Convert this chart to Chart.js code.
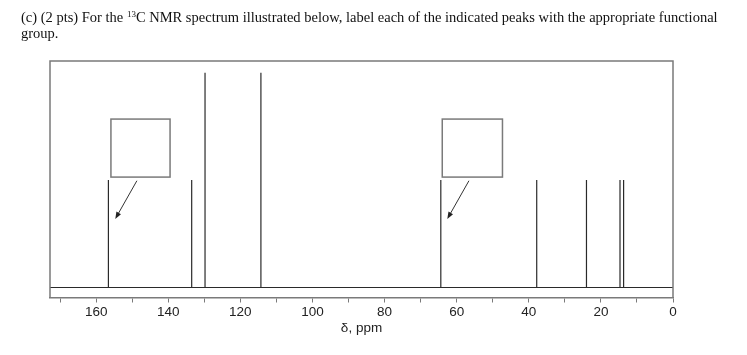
<!DOCTYPE html>
<html>
<head>
<meta charset="utf-8">
<script src="https://cdn.jsdelivr.net/npm/chart.js@4.4.1/dist/chart.umd.min.js"></script>
<style>
  html, body { margin: 0; padding: 0; background: #fff; }
  #wrap { position: relative; width: 747px; height: 355px; }
  #q { position: absolute; left: 21px; top: 9px; font-family: "Liberation Serif", "Times New Roman", serif;
       font-size: 14.5px; line-height: 16px; color: #111; white-space: nowrap; }
  #q sup { font-size: 9px; vertical-align: 5px; line-height: 0; }
  canvas { position: absolute; left: 0; top: 0; }
</style>
</head>
<body>
<div id="wrap">
  <canvas id="c" width="747" height="355"></canvas>
  <div id="q">(c) (2 pts) For the <sup>13</sup>C NMR spectrum illustrated below, label each of the indicated peaks with the appropriate functional<br>group.</div>
</div>
<script>
// ---- data ----
const shifts      = [156.6, 133.5, 129.8, 114.3, 64.4, 37.8, 24.0, 14.7, 13.7]; // ppm
const intensities = [50, 50, 100, 100, 50, 50, 50, 50, 50];                   // relative height
const majorTicks  = [160, 140, 120, 100, 80, 60, 40, 20, 0];
const minorTicks  = [170, 150, 130, 110, 90, 70, 50, 30, 10];
const axisTitle   = "δ, ppm";
const ppmMax = 172.8;

// answer boxes pointing to peaks (data coords: ppm, intensity)
const boxes = [
  { x1: 155.9, x2: 139.5, y1: 78.4, y2: 51.4, ax1: 148.7, ay1: 49.7, ax2: 154.7, ay2: 31.9 },
  { x1: 64.0,  x2: 47.3,  y1: 78.4, y2: 51.4, ax1: 56.6,  ay1: 49.7, ax2: 62.6,  ay2: 31.9 }
];

// build stick spectrum
const pts = [{ x: ppmMax, y: 0 }];
shifts.map((s, i) => ({ s, h: intensities[i] }))
  .sort((a, b) => b.s - a.s)
  .forEach(p => { pts.push({ x: p.s, y: 0 }, { x: p.s, y: p.h }, { x: p.s, y: 0 }); });
pts.push({ x: 0, y: 0 });

const frameColor = '#7a7a7a';

const decor = {
  id: 'decor',
  afterDatasetsDraw(chart) {
    const { ctx, chartArea: a, scales: { x, y } } = chart;
    ctx.save();
    // frame
    ctx.strokeStyle = frameColor;
    ctx.lineWidth = 1.5;
    ctx.beginPath();
    ctx.moveTo(a.left, a.bottom);
    ctx.lineTo(a.left, a.top);
    ctx.lineTo(a.right, a.top);
    ctx.lineTo(a.right, a.bottom);
    ctx.stroke();
    // boxes + arrows
    boxes.forEach(b => {
      const L = x.getPixelForValue(b.x1), R = x.getPixelForValue(b.x2);
      const T = y.getPixelForValue(b.y1), B = y.getPixelForValue(b.y2);
      ctx.fillStyle = '#fff';
      ctx.fillRect(L, T, R - L, B - T);
      ctx.strokeStyle = frameColor;
      ctx.lineWidth = 1.5;
      ctx.strokeRect(L, T, R - L, B - T);
      const sx = x.getPixelForValue(b.ax1), sy = y.getPixelForValue(b.ay1);
      const ex = x.getPixelForValue(b.ax2), ey = y.getPixelForValue(b.ay2);
      const ang = Math.atan2(ey - sy, ex - sx);
      const hl = 7, hw = 2.6;
      ctx.strokeStyle = '#333';
      ctx.lineWidth = 1;
      ctx.beginPath();
      ctx.moveTo(sx, sy);
      ctx.lineTo(ex - Math.cos(ang) * hl * 0.8, ey - Math.sin(ang) * hl * 0.8);
      ctx.stroke();
      ctx.fillStyle = '#222';
      ctx.beginPath();
      ctx.moveTo(ex, ey);
      ctx.lineTo(ex - Math.cos(ang) * hl - Math.sin(ang) * hw, ey - Math.sin(ang) * hl + Math.cos(ang) * hw);
      ctx.lineTo(ex - Math.cos(ang) * hl + Math.sin(ang) * hw, ey - Math.sin(ang) * hl - Math.cos(ang) * hw);
      ctx.closePath();
      ctx.fill();
    });
    ctx.restore();
  }
};

new Chart(document.getElementById('c'), {
  type: 'scatter',
  data: {
    datasets: [{
      data: pts,
      showLine: true,
      borderColor: '#2a2a2a',
      borderWidth: 1.2,
      pointRadius: 0,
      tension: 0
    }]
  },
  options: {
    responsive: false,
    animation: false,
    devicePixelRatio: 1,
    layout: { padding: { left: 50, right: 74, top: 61, bottom: 19.5 } },
    plugins: { legend: { display: false }, tooltip: { enabled: false } },
    scales: {
      x: {
        type: 'linear',
        reverse: true,
        min: 0,
        max: ppmMax,
        afterBuildTicks(scale) {
          scale.ticks = majorTicks.concat(minorTicks).sort((a, b) => a - b).map(v => ({ value: v }));
        },
        ticks: {
          autoSkip: false,
          maxRotation: 0,
          padding: 3,
          color: '#222',
          font: { family: '"Liberation Sans", Arial, sans-serif', size: 13.5, lineHeight: 1 },
          callback: v => majorTicks.includes(v) ? String(v) : ''
        },
        grid: { drawOnChartArea: false, drawTicks: true, tickLength: 5, color: frameColor, lineWidth: 1 },
        border: { display: true, color: frameColor, width: 1.5 },
        title: {
          display: true, text: axisTitle, padding: { top: 0, bottom: 0 }, color: '#222',
          font: { family: '"Liberation Sans", Arial, sans-serif', size: 13.5, lineHeight: 1 }
        }
      },
      y: { display: false, min: -4.645, max: 105.43 }
    }
  },
  plugins: [decor]
});
</script>
</body>
</html>
